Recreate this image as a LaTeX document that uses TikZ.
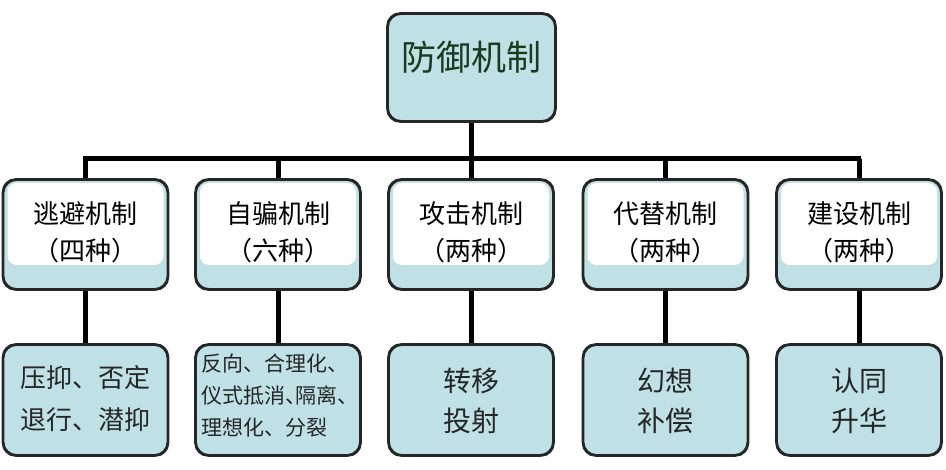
\documentclass[tikz,border=0pt]{standalone}
\usepackage{fontspec}
\setmainfont{Noto Sans CJK SC}
\definecolor{boxblue}{HTML}{BFE1E5}
\definecolor{topink}{HTML}{1C3A1E}
\definecolor{edge}{HTML}{262626}
\newcommand{\narrowdun}{\hbox to 0.5em{、\hss}}
\tikzset{
  boxbase/.style={draw=edge, line width=1.8pt, rounded corners=13pt, fill=boxblue,
    minimum width=164pt, inner sep=0pt},
  topbox/.style={boxbase, minimum width=167pt, minimum height=107pt},
  midbox/.style={boxbase, minimum height=109pt,
    path picture={
      \fill[white, rounded corners=9pt]
        ([shift={(4pt,24pt)}]path picture bounding box.south west)
        rectangle ([shift={(-4pt,-3pt)}]path picture bounding box.north east);
      \fill[boxblue]
        (path picture bounding box.south west)
        rectangle ([yshift=22pt]path picture bounding box.south east);
    }},
  lowbox/.style={boxbase, minimum height=110pt},
  conn/.style={line width=5pt, draw=black},
  outline/.style={draw=edge, line width=1.8pt, rounded corners=13pt},
  toptext/.style={font=\fontsize{35pt}{40pt}\selectfont, text=topink, inner sep=0pt},
  midtext/.style={font=\fontsize{26pt}{37pt}\selectfont, text=black, align=center, inner sep=0pt},
  lowtext/.style={font=\fontsize{26pt}{42pt}\selectfont, text=black!85, align=center, inner sep=0pt},
  lowsmall/.style={font=\fontsize{21pt}{32pt}\selectfont, text=black!85, align=left, inner sep=0pt},
  lowbig/.style={font=\fontsize{28pt}{40pt}\selectfont, text=black!85, align=center, inner sep=0pt},
}
\begin{document}
\begin{tikzpicture}[x=1pt,y=-1pt]
\useasboundingbox[fill=white] (0,0) rectangle (946,470);

\coordinate (hl) at (83,159);
\coordinate (hr) at (861,159);

\node[topbox] (top) at (471.5,67.5) {};
\node[toptext] (topt) at (471.5,57) {防御机制};

\foreach \n/\x in {m1/85.5, m2/278, m3/471, m4/665.5, m5/859}{
  \node[midbox] (\n) at (\x,234.5) {};
}
\foreach \n/\x in {b1/85.5, b2/278, b3/471, b4/665.5, b5/859}{
  \node[lowbox] (\n) at (\x,400) {};
}

\draw[conn] (top.south) -- (top.south |- hl);
\draw[conn] (hl) -- (hr);
\foreach \n in {m1,m2,m3,m4,m5}{
  \draw[conn] (\n.north |- hl) -- (\n.north);
}
\foreach \a/\b in {m1/b1,m2/b2,m3/b3,m4/b4,m5/b5}{
  \draw[conn] (\a.south) -- (\b.north);
}
\foreach \n in {top,m1,m2,m3,m4,m5,b1,b2,b3,b4,b5}{
  \draw[outline] (\n.south west) rectangle (\n.north east);
}

\node[midtext] (m1t) at (85.5,232) {逃避机制\\（四种）};
\node[midtext] (m2t) at (278,232) {自骗机制\\（六种）};
\node[midtext] (m3t) at (471,232) {攻击机制\\（两种）};
\node[midtext] (m4t) at (665.5,232) {代替机制\\（两种）};
\node[midtext] (m5t) at (859,232) {建设机制\\（两种）};

\node[lowtext] (b1t) at (85.5,399) {压抑、否定\\退行、潜抑};
\node[lowsmall] (b2t) at (280,396) {反向、合理化、\\仪式抵消\narrowdun 隔离、\\理想化、分裂};
\node[lowbig] (b3t) at (471,401) {转移\\投射};
\node[lowbig] (b4t) at (665.5,401) {幻想\\补偿};
\node[lowbig] (b5t) at (859,401) {认同\\升华};
\end{tikzpicture}
\end{document}
